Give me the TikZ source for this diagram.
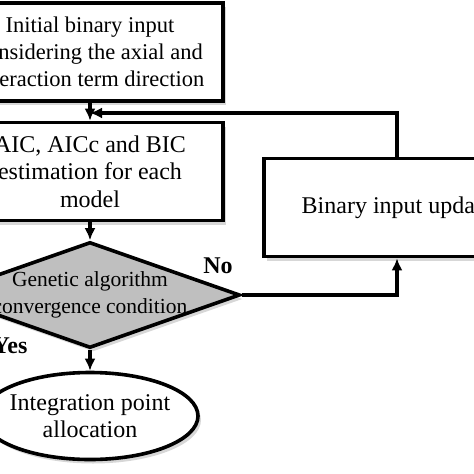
\documentclass[tikz,border=0pt]{standalone}
\usepackage{fontspec}
\setmainfont{Liberation Serif}
\usetikzlibrary{shapes.geometric,shadows,arrows.meta}
\definecolor{condgray}{RGB}{191,191,191}

\tikzset{
  shade/.style={drop shadow={fill=black!35,opacity=0.45,shadow xshift=3pt,shadow yshift=-4pt}},
  flowbox/.style={draw,rectangle,line width=3.6pt,fill=white,shade,minimum width=266pt,minimum height=98pt,align=center,font=\fontsize{24}{27.5}\selectfont},
  decision/.style={draw,diamond,line width=3.6pt,fill=condgray,shade,minimum width=300pt,minimum height=106pt,inner sep=0pt},
  terminal/.style={draw,ellipse,line width=3.6pt,fill=white,shade,minimum width=216pt,minimum height=87pt,inner sep=0pt},
  flow/.style={line width=3.6pt,-{Latex[length=12pt,width=11pt]}},
  answer/.style={font=\fontsize{24}{27}\selectfont\bfseries},
}

\begin{document}
\begin{tikzpicture}[x=1pt,y=-1pt]
        \useasboundingbox (0,0) rectangle (474,474);
        \coordinate (v1) at (90,52);
        \coordinate (v2) at (90,171.5);
        \coordinate (v3) at (90,295);
        \coordinate (v4) at (90,416);
        \coordinate (v5) at (397,207.5);
        \coordinate (merge) at (90,113);

        \node[flowbox,font=\fontsize{22.5}{27}\selectfont] (init) at (v1){Initial binary input\\considering the axial and\\interaction term direction};
        \node[flowbox] (crit) at (v2){AIC, AICc and BIC\\estimation for each\\model};
        \node[decision,label={[name=condtext,align=center,font=\fontsize{21.5}{27}\selectfont]center:Genetic algorithm\\convergence condition}] (conv) at (v3){};
        \node[terminal,label={[name=alloctext,align=center,font=\fontsize{24}{27}\selectfont]center:Integration point\\allocation}] (alloc) at (v4){};
        \node[flowbox] (update) at (v5){Binary input update};

        \draw[flow] (init) -- (crit);
        \draw[flow] (crit) -- (conv);
        \draw[flow] (conv.south) -- (alloc.north);
        \draw[flow] (conv.east) -| (update.south);
        \draw[flow] (update.north) |- (merge);

        \node[answer] (no) at (218,266){No};
        \node[answer] (yes) at (10,346){Yes};
    \end{tikzpicture}
\end{document}
